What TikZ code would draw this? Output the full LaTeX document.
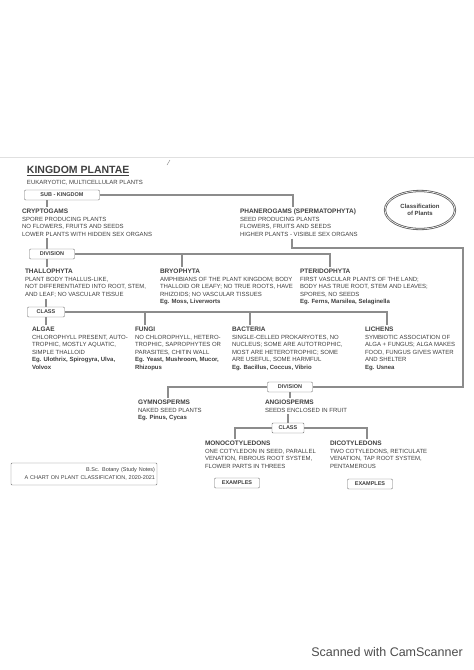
\documentclass[tikz,border=0pt]{standalone}
\usepackage{fontspec}
\setmainfont{Liberation Sans}
\usetikzlibrary{shapes.geometric}
\newcommand{\hdf}{\bfseries\fontsize{6.5}{7.6}\selectfont}
\begin{document}
\begin{tikzpicture}[x=1pt,y=-1pt,
		ink/.style={text=black!75},
		tag/.style={draw=black!55,rounded corners=1pt,inner sep=0pt,minimum height=10pt,ink,font=\bfseries\fontsize{5.5}{6}\selectfont},
		txt/.style={anchor=north west,align=left,inner sep=0pt,outer xsep=0pt,outer ysep=2pt,ink,font=\fontsize{6}{7.6}\selectfont},
		link/.style={draw=black!45,line width=1.1pt}]
		\useasboundingbox[fill=white] (0,0) rectangle (474,670);
		\draw[black!12] (0,157) -- (474,157);
		\draw[black!50] (167,165) -- (170,160);
		\node[txt,font=\bfseries\fontsize{10.5}{11}\selectfont] (title) at (27,164) {\underline{KINGDOM PLANTAE}};
		\node[txt] (sub) at (27,178) {EUKARYOTIC, MULTICELLULAR PLANTS};
		\node[tag,minimum width=75pt] (subk) at (62,195) {SUB - KINGDOM};
		\node[txt] (crypt) at (22,207) {{\hdf CRYPTOGAMS}\\SPORE PRODUCING PLANTS\\NO FLOWERS, FRUITS AND SEEDS\\LOWER PLANTS WITH HIDDEN SEX ORGANS};
		\node[txt] (phan) at (240,207) {{\hdf PHANEROGAMS (SPERMATOPHYTA)}\\SEED PRODUCING PLANTS\\FLOWERS, FRUITS AND SEEDS\\HIGHER PLANTS - VISIBLE SEX ORGANS};
		\node[ellipse,draw=black!65,double,thick,minimum width=70pt,minimum height=38pt,inner sep=0pt,align=center,ink,font=\bfseries\fontsize{6}{7}\selectfont] (cls) at (420,210) {Classification\\of Plants};
		\node[tag,minimum width=45pt] (div1) at (52,254) {DIVISION};
		\node[txt] (thallo) at (25,267) {{\hdf THALLOPHYTA}\\PLANT BODY THALLUS-LIKE,\\NOT DIFFERENTIATED INTO ROOT, STEM,\\AND LEAF; NO VASCULAR TISSUE};
		\node[txt] (bryo) at (160,267) {{\hdf BRYOPHYTA}\\AMPHIBIANS OF THE PLANT KINGDOM; BODY\\THALLOID OR LEAFY; NO TRUE ROOTS, HAVE\\RHIZOIDS; NO VASCULAR TISSUES\\\textbf{Eg. Moss, Liverworts}};
		\node[txt] (pter) at (300,267) {{\hdf PTERIDOPHYTA}\\FIRST VASCULAR PLANTS OF THE LAND;\\BODY HAS TRUE ROOT, STEM AND LEAVES;\\SPORES, NO SEEDS\\\textbf{Eg. Ferns, Marsilea, Selaginella}};
		\node[tag,minimum width=37pt] (class1) at (46,312) {CLASS};
		\node[txt] (algae) at (32,325) {{\hdf ALGAE}\\CHLOROPHYLL PRESENT, AUTO-\\TROPHIC, MOSTLY AQUATIC,\\SIMPLE THALLOID\\\textbf{Eg. Ulothrix, Spirogyra, Ulva,}\\\textbf{Volvox}};
		\node[txt] (fungi) at (135,325) {{\hdf FUNGI}\\NO CHLOROPHYLL, HETERO-\\TROPHIC, SAPROPHYTES OR\\PARASITES, CHITIN WALL\\\textbf{Eg. Yeast, Mushroom, Mucor,}\\\textbf{Rhizopus}};
		\node[txt] (bact) at (232,325) {{\hdf BACTERIA}\\SINGLE-CELLED PROKARYOTES, NO\\NUCLEUS; SOME ARE AUTOTROPHIC,\\MOST ARE HETEROTROPHIC; SOME\\ARE USEFUL, SOME HARMFUL\\\textbf{Eg. Bacillus, Coccus, Vibrio}};
		\node[txt] (lich) at (365,325) {{\hdf LICHENS}\\SYMBIOTIC ASSOCIATION OF\\ALGA + FUNGUS; ALGA MAKES\\FOOD, FUNGUS GIVES WATER\\AND SHELTER\\\textbf{Eg. Usnea}};
		\node[tag,minimum width=45pt] (div2) at (290,387) {DIVISION};
		\node[txt] (gymno) at (138,398) {{\hdf GYMNOSPERMS}\\NAKED SEED PLANTS\\\textbf{Eg. Pinus, Cycas}};
		\node[txt] (angio) at (265,398) {{\hdf ANGIOSPERMS}\\SEEDS ENCLOSED IN FRUIT};
		\node[tag,minimum width=32pt] (class2) at (288,428) {CLASS};
		\node[txt] (mono) at (205,439) {{\hdf MONOCOTYLEDONS}\\ONE COTYLEDON IN SEED, PARALLEL\\VENATION, FIBROUS ROOT SYSTEM,\\FLOWER PARTS IN THREES};
		\node[txt] (dico) at (330,439) {{\hdf DICOTYLEDONS}\\TWO COTYLEDONS, RETICULATE\\VENATION, TAP ROOT SYSTEM,\\PENTAMEROUS};
		\node[tag,minimum width=45pt] (ex1) at (237,483) {EXAMPLES};
		\node[tag,minimum width=45pt] (ex2) at (370,484) {EXAMPLES};
		\node[draw=black!55,rounded corners=1pt,text width=142pt,minimum height=22pt,inner sep=2pt,align=right,ink,font=\fontsize{5.5}{8}\selectfont] (note) at (84,474) {B.Sc. Botany (Study Notes)\\A CHART ON PLANT CLASSIFICATION, 2020-2021};
		\node[text=black!70,font=\fontsize{12.5}{14}\selectfont] (scan) at (387,652) {Scanned with CamScanner};
		\draw[link] (subk.east) -| ([xshift=53pt]phan.north west);
		\draw[link] ([xshift=-15pt]subk.south) -- ([xshift=-15pt]subk.south |- crypt.north);
		\draw[link] ([xshift=-5pt]div1.north) -- ([xshift=-5pt]div1.north |- crypt.south);
		\draw[link] ([xshift=-5pt]div1.south) -- ([xshift=-5pt]div1.south |- thallo.north);
		\draw[link] (div1.east) -| ([xshift=30pt]pter.north west);
		\draw[link] ([xshift=22pt]bryo.north west) |- (div1.east);
		\coordinate (rc) at (463,248);
		\draw[link] ([xshift=52pt]phan.south west) |- (rc) |- (div2.east);
		\draw[link] (class1.north) -- (class1.north |- thallo.south);
		\draw[link] (class1.south) -- (class1.south |- algae.north);
		\draw[link] (class1.east) -| ([xshift=22pt]lich.north west);
		\draw[link] ([xshift=10pt]fungi.north west) |- (class1.east);
		\draw[link] ([xshift=18pt]bact.north west) |- (class1.east);
		\draw[link] (div2.west) -| ([xshift=30pt]gymno.north west);
		\draw[link] (div2.south) -- (div2.south |- angio.north);
		\draw[link] (class2.north) -- (class2.north |- angio.south);
		\draw[link] (class2.west) -| ([xshift=30pt]mono.north west);
		\draw[link] (class2.east) -| ([xshift=37pt]dico.north west);
	\end{tikzpicture}
\end{document}
